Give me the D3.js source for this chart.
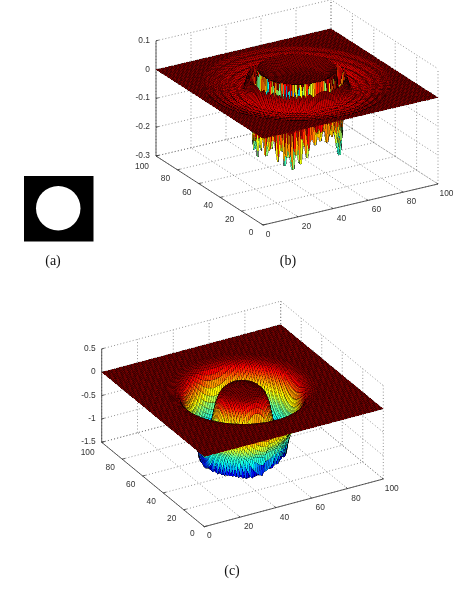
<!DOCTYPE html>
<html><head><meta charset="utf-8">
<script src="https://cdn.jsdelivr.net/npm/d3@7"></script>
<style>html,body{margin:0;background:#fff}svg{display:block;filter:blur(.4px)}</style>
</head><body><svg id="chart" width="474" height="598"></svg>
<script>
// ---- data ----
const axisTicksXY = [0,20,40,60,80,100];
const zTicksB = [-0.3,-0.2,-0.1,0,0.1];
const zTicksC = [-1.5,-1,-0.5,0,0.5];
const gridSamples = d3.range(0,101,1);
// radial profile of surface (b): radius -> height
const radiiB  = [0,8,14,17,19,19.6,20.4,21.6,23,24,26,28,30,32,34,36,38,40,42,44,46,50];
const heightB = [.012,.012,.018,.04,.05,.05,0,0,0,.03,-.02,-.03,-.02,-.028,-.016,-.022,-.012,-.015,-.006,-.008,0,0];
const rimWeightRadiiB = [0,19.6,20.4,21.6,23.5,50];
const rimWeightB = [0,0,1,1,0,0];
// rim depth of (b) per 5 degree bin of polar angle (from +x)
const rimDepthB = [.20,.17,.22,.19,.15,.23,.18,.21,.16,.24,.19,.17,.22,.18,.2,.16,.23,.19,
  .21,.17,.24,.18,.2,.15,.22,.19,.16,.23,.2,.17,.21,.22,.21,.18,.23,.17,
  .2,.16,.21,.19,.18,.15,.22,.18,.23,.2,.24,.19,.22,.16,.2,.14,.16,.13,.15,.12,.16,.14,
  .15,.13,.18,.2,.23,.19,.24,.22,.19,.23,.22,.18,.21,.17];
const radiiC  = [0,4,8,11,13,15,17,19,20,21,22,23,25,27,29,31,33,36,50];
const heightC = [.12,.11,.06,-.06,-.26,-.65,-1.1,-1.36,-1.42,-1.44,-1.2,-1.0,-.85,-.6,-.3,-.1,-.03,0,0];
const rimWeightRadiiC = [0,16,18,24,30,50];
const rimWeightC = [0,0,1,1,0,0];
// offset of the bowl floor of (c) per 15 degree bin
const rimDepthC = [0,0,0,0,0,0,0,0,0,0,0,0,0,0,0,0,-.02,0,.08,.12,.16,.1,.02,0];
const maskRadius = 32, maskSize = 100;
const jetStops = ["#00008f","#0000ff","#00ffff","#80ff80","#ffff00","#ff8000","#ff0000","#800000"];

// ---- layout ----
const panels = [
 {origin:[263,225],xEnd:[175,-41],yEnd:[-107,-69],zDomain:[-.3,.1],zEnd:[0,-115.2],zTicks:zTicksB,
  radii:radiiB,heights:heightB,wr:rimWeightRadiiB,w:rimWeightB,ang:rimDepthB,sign:-1,color:[-.3,.004]},
 {origin:[204.3,526.7],xEnd:[179,-47.7],yEnd:[-102.6,-84.4],zDomain:[-1.5,.5],zEnd:[0,-93.4],zTicks:zTicksC,
  radii:radiiC,heights:heightC,wr:rimWeightRadiiC,w:rimWeightC,ang:rimDepthC,sign:1,color:[-1.42,0]}
];
const svg = d3.select("#chart");
const fmt = v => String(v);

panels.forEach(p=>{
  const g = svg.append("g");
  const xS = d3.scaleLinear([0,100],[[0,0],p.xEnd]);
  const yS = d3.scaleLinear([0,100],[[0,0],p.yEnd]);
  const zS = d3.scaleLinear(p.zDomain,[[0,0],p.zEnd]);
  const P = (x,y,z)=>{const a=xS(x),b=yS(y),c=zS(z);return [p.origin[0]+a[0]+b[0]+c[0],p.origin[1]+a[1]+b[1]+c[1]];};
  const [z0,z1]=p.zDomain;
  const line = d3.line();
  const dotted = pts=>g.append("path").attr("d",line(pts)).attr("fill","none").attr("stroke","#666").attr("stroke-width",.7).attr("stroke-dasharray","1 2.2");
  const solid = pts=>g.append("path").attr("d",line(pts)).attr("fill","none").attr("stroke","#333").attr("stroke-width",.8);
  axisTicksXY.forEach(t=>{
    dotted([P(t,0,z0),P(t,100,z0)]);
    dotted([P(0,t,z0),P(100,t,z0)]);
    dotted([P(t,100,z0),P(t,100,z1)]);
    dotted([P(100,t,z0),P(100,t,z1)]);
  });
  p.zTicks.forEach(t=>{dotted([P(0,100,t),P(100,100,t),P(100,0,t)]);});
  solid([P(0,100,z1),P(0,100,z0),P(0,0,z0),P(100,0,z0)]);
  axisTicksXY.forEach(t=>{
    solid([P(t,0,z0),P(t,1.6,z0)]);
    solid([P(0,t,z0),P(1.6,t,z0)]);
  });
  p.zTicks.forEach(t=>solid([P(0,100,t),P(1.6,100,t)]));
  const label=(xy,txt,anchor,dx,dy)=>g.append("text").attr("x",xy[0]+dx).attr("y",xy[1]+dy).attr("text-anchor",anchor)
     .attr("font-family","Liberation Sans, Arial, sans-serif").attr("font-size",8.4).attr("fill","#333").text(txt);
  p.zTicks.forEach(t=>label(P(0,100,t),fmt(t),"end",-6,2));
  axisTicksXY.forEach(t=>label(P(t,0,z0),fmt(t),"middle",t?8.5:5,t?12:11.5));
  axisTicksXY.forEach(t=>label(P(0,t,z0),fmt(t),"middle",t==100?-14:-12,t==100?12.5:(t?11:9.5)));

  // surface
  const prof = d3.scaleLinear(p.radii,p.heights).clamp(true);
  const wt = d3.scaleLinear(p.wr,p.w).clamp(true);
  const binDeg = 360/p.ang.length;
  const Z = (x,y)=>{
    const dx=x-50,dy=y-50,r=Math.hypot(dx,dy);
    let th=Math.atan2(dy,dx)*180/Math.PI; if(th<0)th+=360;
    const a=p.ang[Math.min(p.ang.length-1,Math.floor(th/binDeg))];
    return prof(r)+p.sign*wt(r)*a;
  };
  const col = d3.scaleLinear(d3.quantize(d3.interpolateNumber(p.color[0],p.color[1]),jetStops.length),jetStops).clamp(true);
  const s = gridSamples, cells=[];
  for(let j=s.length-2;j>=0;j--) for(let i=s.length-2;i>=0;i--){
    const x0=s[i],x1=s[i+1],y0=s[j],y1=s[j+1];
    const zs=[Z(x0,y0),Z(x1,y0),Z(x1,y1),Z(x0,y1)];
    cells.push({pts:[P(x0,y0,zs[0]),P(x1,y0,zs[1]),P(x1,y1,zs[2]),P(x0,y1,zs[3])],z:zs[0]});
  }
  g.append("g").attr("shape-rendering","crispEdges").selectAll("path").data(cells).join("path")
    .attr("d",c=>line(c.pts)+"Z").attr("fill",c=>col(c.z))
    .attr("stroke","#000").attr("stroke-width",.2);
});

// panel (a): mask image
const maskX = d3.scaleLinear([0,maskSize],[24,93.5]);
const maskY = d3.scaleLinear([0,maskSize],[176,241.5]);
svg.append("rect").attr("x",maskX(0)).attr("y",maskY(0)).attr("width",maskX(maskSize)-maskX(0)).attr("height",maskY(maskSize)-maskY(0)).attr("fill","#000");
svg.append("circle").attr("cx",maskX(maskSize/2)-.5).attr("cy",maskY(maskSize/2)-.5)
  .attr("r",maskX(maskRadius)-maskX(0)).attr("fill","#fff");

// captions
const captions=[["(a)",53,265],["(b)",288,265],["(c)",232,575]];
svg.selectAll("text.cap").data(captions).join("text").attr("class","cap")
  .attr("x",d=>d[1]).attr("y",d=>d[2]).attr("text-anchor","middle")
  .attr("font-family","Liberation Serif, Times New Roman, serif").attr("font-size",14).attr("fill","#111").text(d=>d[0]);
</script></body></html>
